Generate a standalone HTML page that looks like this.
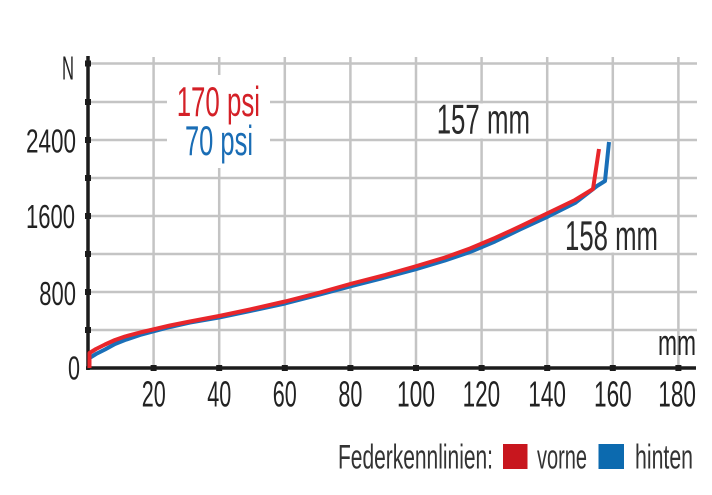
<!DOCTYPE html>
<html><head><meta charset="utf-8"><style>
html,body{margin:0;padding:0;background:#fff;}
svg{display:block;}
text{font-family:"Liberation Sans",sans-serif;}
</style></head><body>
<svg width="712" height="495" viewBox="0 0 712 495" xmlns="http://www.w3.org/2000/svg">
<g stroke="#c4c4c4" stroke-width="2.5" fill="none">
<line x1="153.6" y1="57" x2="153.6" y2="368"/>
<line x1="219.2" y1="57" x2="219.2" y2="368"/>
<line x1="284.8" y1="57" x2="284.8" y2="368"/>
<line x1="350.4" y1="57" x2="350.4" y2="368"/>
<line x1="416" y1="57" x2="416" y2="368"/>
<line x1="481.6" y1="57" x2="481.6" y2="368"/>
<line x1="547.2" y1="57" x2="547.2" y2="368"/>
<line x1="612.8" y1="57" x2="612.8" y2="368"/>
<line x1="678.4" y1="57" x2="678.4" y2="368"/>
<line x1="88" y1="330" x2="697" y2="330"/>
<line x1="88" y1="292" x2="697" y2="292"/>
<line x1="88" y1="254" x2="697" y2="254"/>
<line x1="88" y1="216" x2="697" y2="216"/>
<line x1="88" y1="178" x2="697" y2="178"/>
<line x1="88" y1="140" x2="697" y2="140"/>
<line x1="88" y1="102" x2="697" y2="102"/>
<line x1="88" y1="63.5" x2="697" y2="63.5"/>
</g>
<rect x="167" y="75" width="103" height="93" fill="#fff"/>
<rect x="432" y="103.5" width="102" height="35" fill="#fff"/>
<rect x="562" y="217.5" width="100" height="35" fill="#fff"/>
<g stroke="#1c1c1c" stroke-width="3.5">
<line x1="88" y1="56" x2="88" y2="370"/>
<line x1="86" y1="368" x2="696" y2="368"/>
</g>
<g fill="#1c1c1c">
<rect x="85" y="60.5" width="6" height="6"/>
<rect x="85" y="99" width="6" height="6"/>
<rect x="85" y="137" width="6" height="6"/>
<rect x="85" y="175" width="6" height="6"/>
<rect x="85" y="213" width="6" height="6"/>
<rect x="85" y="251" width="6" height="6"/>
<rect x="85" y="289" width="6" height="6"/>
<rect x="85" y="327" width="6" height="6"/>
<rect x="150.6" y="365" width="6" height="6"/>
<rect x="216.2" y="365" width="6" height="6"/>
<rect x="281.8" y="365" width="6" height="6"/>
<rect x="347.4" y="365" width="6" height="6"/>
<rect x="413" y="365" width="6" height="6"/>
<rect x="478.6" y="365" width="6" height="6"/>
<rect x="544.2" y="365" width="6" height="6"/>
<rect x="609.8" y="365" width="6" height="6"/>
<rect x="675.4" y="365" width="6" height="6"/>
</g>
<polyline fill="none" stroke="#1a6fb8" stroke-width="4" stroke-linejoin="round" points="89.5,364 89.5,358 96,354 105,349.5 115,344 125,340 140,335 153,331.5 170,327 190,322.5 219,317.5 250,311 285,303.5 320,294.5 352,286 385,277.5 415,269.5 445,260.5 470,252 495,241.5 520,229.5 548,216.5 575,203 597,186 605,181 609,142"/>
<polyline fill="none" stroke="#e8262b" stroke-width="4" stroke-linejoin="round" points="89.5,368 89.5,353 96,349 105,344.5 115,340 125,336.5 140,332.5 153,329.5 170,325.5 190,321.5 219,316 250,309.5 285,301.5 320,292.5 352,283.5 385,275 415,266.5 445,257.5 470,248.5 495,238 520,226.5 548,213 575,200 593,189 599,149"/>
<g fill="#222" font-size="33.5">
<text x="62" y="79.3" textLength="12" lengthAdjust="spacingAndGlyphs">N</text>
<text x="26" y="152.7" textLength="50" lengthAdjust="spacingAndGlyphs">2400</text>
<text x="26" y="228" textLength="49" lengthAdjust="spacingAndGlyphs">1600</text>
<text x="39.3" y="305" textLength="36.7" lengthAdjust="spacingAndGlyphs">800</text>
<text x="68" y="379.3" textLength="12" lengthAdjust="spacingAndGlyphs">0</text>
</g>
<g fill="#222" font-size="36">
<text x="141.7" y="406.5" textLength="24" lengthAdjust="spacingAndGlyphs">20</text>
<text x="207.2" y="406.5" textLength="24" lengthAdjust="spacingAndGlyphs">40</text>
<text x="272.8" y="406.5" textLength="24" lengthAdjust="spacingAndGlyphs">60</text>
<text x="338.4" y="406.5" textLength="24" lengthAdjust="spacingAndGlyphs">80</text>
<text x="397" y="406.5" textLength="38" lengthAdjust="spacingAndGlyphs">100</text>
<text x="462.6" y="406.5" textLength="37.5" lengthAdjust="spacingAndGlyphs">120</text>
<text x="528.3" y="406.5" textLength="37.7" lengthAdjust="spacingAndGlyphs">140</text>
<text x="594" y="406.5" textLength="37.7" lengthAdjust="spacingAndGlyphs">160</text>
<text x="658.3" y="406.5" textLength="37.7" lengthAdjust="spacingAndGlyphs">180</text>
<text x="658" y="355" textLength="38" lengthAdjust="spacingAndGlyphs">mm</text>
</g>
<text x="176.7" y="116" font-size="42" fill="#d42027" textLength="83.3" lengthAdjust="spacingAndGlyphs">170 psi</text>
<text x="185" y="155" font-size="42" fill="#1a6db5" textLength="68" lengthAdjust="spacingAndGlyphs">70 psi</text>
<text x="436.7" y="133.3" font-size="42" fill="#2a2a2a" textLength="93.3" lengthAdjust="spacingAndGlyphs">157 mm</text>
<text x="565" y="250" font-size="42" fill="#2a2a2a" textLength="93" lengthAdjust="spacingAndGlyphs">158 mm</text>
<g fill="#333" font-size="34">
<text x="338" y="468.3" textLength="155" lengthAdjust="spacingAndGlyphs">Federkennlinien:</text>
<text x="537" y="468.3" textLength="50" lengthAdjust="spacingAndGlyphs">vorne</text>
<text x="635" y="468.3" textLength="58" lengthAdjust="spacingAndGlyphs">hinten</text>
</g>
<rect x="503" y="444" width="24.5" height="25" fill="#c8161e"/>
<rect x="598.5" y="444" width="25.5" height="25" fill="#0c6aaf"/>
</svg>
</body></html>
